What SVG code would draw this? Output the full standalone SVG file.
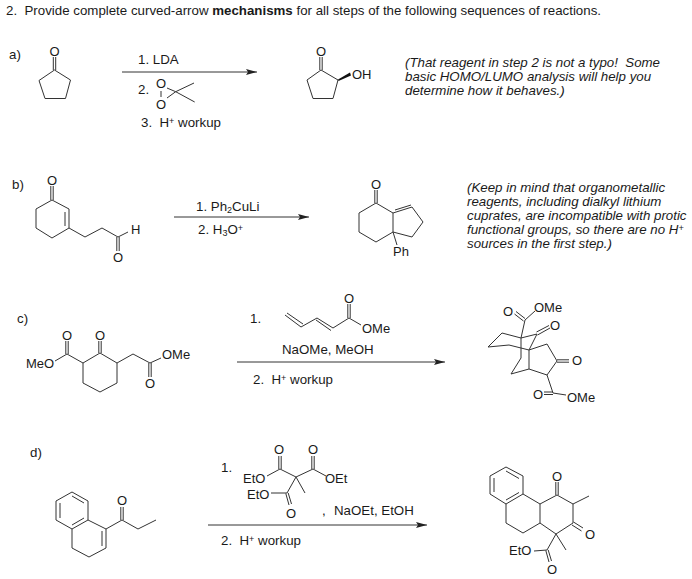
<svg xmlns="http://www.w3.org/2000/svg" width="692" height="579" viewBox="0 0 692 579">
<style>
text{font-family:"Liberation Sans",Arial,sans-serif;font-size:13.3px;fill:#1a1a1a}
.m{text-anchor:middle}
.a{font-size:13px}
.i{font-style:italic}
.s{font-size:9px}
.b{font-weight:bold}
.bond{fill:none;stroke:#333;stroke-width:1}
.arr{fill:none;stroke:#333;stroke-width:1}
</style>
<defs><marker id="ah" markerUnits="userSpaceOnUse" markerWidth="12" markerHeight="6" refX="11" refY="3" orient="auto"><path d="M0 0L11 3L0 6L2 3Z" fill="#222"/></marker></defs>
<rect width="692" height="579" fill="#fff"/>
<g id="title"><text x="6" y="15" xml:space="preserve">2.  Provide complete curved-arrow <tspan class="b">mechanisms</tspan> for all steps of the following sequences of reactions.</text></g>
<g id="connectors">
<path class="arr" marker-end="url(#ah)" d="M122 72H257"/>
<path class="arr" marker-end="url(#ah)" d="M174 217H309"/>
<path class="arr" marker-end="url(#ah)" d="M237 362H445"/>
<path class="arr" marker-end="url(#ah)" d="M208 525H427"/>
</g>
<g id="a-label"><text x="9" y="59">a)</text></g>
<g id="a-reactant">
<path class="bond" d="M54.500 70L70.500 80L65.500 98.500H45L39 80.500ZM53.300 70V57M55.700 70V57"/>
<text class="m a" x="54.500" y="56">O</text>
</g>
<g id="a-reagents">
<text x="138" y="64">1. LDA</text>
<text x="138" y="94">2.</text>
<path class="bond" d="M161 91V97M167 88L175.700 91.700L167 98M175.700 91.700L194 83M175.700 91.700L194.700 102"/>
<text class="m a" x="161" y="88">O</text>
<text class="m a" x="161" y="109">O</text>
<text x="141" y="127" xml:space="preserve">3.  H<tspan class="s" dy="-3">+</tspan><tspan dy="3"> workup</tspan></text>
</g>
<g id="a-product">
<path class="bond" d="M321 70L338 80L333 98.500H313L307 80ZM319.800 70V57M322.200 70V57"/>
<path d="M338 79.500L350 72.500L351 75.500L338.500 81Z" fill="#111"/>
<text class="m a" x="321" y="56">O</text>
<text class="a" x="352" y="79">OH</text>
</g>
<g id="a-note">
<text class="i" x="405" y="67" xml:space="preserve">(That reagent in step 2 is not a typo!  Some</text>
<text class="i" x="405" y="81">basic HOMO/LUMO analysis will help you</text>
<text class="i" x="405" y="95">determine how it behaves.)</text>
</g>
<g id="b-label"><text x="12" y="189">b)</text></g>
<g id="b-reactant">
<path class="bond" d="M52 200L69 209V228L52 238L36 228V209ZM50.800 200V186M53.200 200V186M65 212V226M69 228L85 237L102 228L118 237L128 232M116.800 237V251M119.200 237V251"/>
<text class="m a" x="52" y="185">O</text>
<text class="a" x="131" y="234">H</text>
<text class="m a" x="118" y="262">O</text>
</g>
<g id="b-reagents">
<text x="196" y="211">1. Ph<tspan class="s" dy="2">2</tspan><tspan dy="-2">CuLi</tspan></text>
<text x="198" y="234">2. H<tspan class="s" dy="2">3</tspan><tspan dy="-2">O</tspan><tspan class="s" dy="-3">+</tspan></text>
</g>
<g id="b-product">
<path class="bond" d="M376 203L393 213V232L376 242L359 232V213ZM374.800 203V190M377.200 203V190M393 213L412 207L423 222L412 237L393 232M395 210L411 205M393 232L397 245"/>
<text class="m a" x="376" y="189">O</text>
<text class="m a" x="401" y="256">Ph</text>
</g>
<g id="b-note">
<text class="i" x="467" y="192">(Keep in mind that organometallic</text>
<text class="i" x="467" y="206">reagents, including dialkyl lithium</text>
<text class="i" x="467" y="220">cuprates, are incompatible with protic</text>
<text class="i" x="467" y="234">functional groups, so there are no H<tspan class="s" dy="-3">+</tspan></text>
<text class="i" x="467" y="248">sources in the first step.)</text>
</g>
<g id="c-label"><text x="17" y="323">c)</text></g>
<g id="c-reactant">
<path class="bond" d="M100 353L117 363V383L100 392L83 383V363ZM98.800 353V341M101.200 353V341M83 363L67 354L55 361M65.800 354V341M68.200 354V341M117 363L133 354L150 363L161 358M148.800 363V377M151.200 363V377"/>
<text class="m a" x="67" y="340">O</text>
<text class="m a" x="100" y="340">O</text>
<text class="a" x="26" y="368">MeO</text>
<text class="a" x="162" y="359">OMe</text>
<text class="m a" x="150" y="388">O</text>
</g>
<g id="c-reagents">
<text x="250" y="323">1.</text>
<path class="bond" d="M285 315L301 327L317 318L333 328L349 318M287 313L303 324M316 320L331 330.500M347.800 318V304M350.200 318V304M349 318L361 325"/>
<text class="m a" x="349" y="303">O</text>
<text class="a" x="362" y="333">OMe</text>
<text x="282" y="354">NaOMe, MeOH</text>
<text x="253" y="384" xml:space="preserve">2.  H<tspan class="s" dy="-3">+</tspan><tspan dy="3"> workup</tspan></text>
</g>
<g id="c-product">
<path class="bond" d="M525 320L535 311M516 311.500L525 318.500M514.500 314L523.500 321M525 320L521 338L537 334L529 350M521 338L502 333L488 347L509 345L529 350L547 344L557 361L547 375L529 369V350M529 369L511 374L521 358V338M536.500 332L549 325.500M537.500 335L550 328M557 359.800H569M557 362.200H569M547 375L553 393L566 395M553 392L544 392M553 394.500L544 394.500"/>
<text class="a" x="534" y="312">OMe</text>
<text class="m a" x="508" y="316">O</text>
<text class="m a" x="555" y="330">O</text>
<text class="m a" x="577" y="365">O</text>
<text class="m a" x="538" y="399">O</text>
<text class="a" x="567" y="402">OMe</text>
</g>
<g id="d-label"><text x="30" y="457">d)</text></g>
<g id="d-reactant">
<path class="bond" d="M72 492L88 501V520L72 529L56 520V501ZM72 496L84 503M60 503V518M72 525L84 518M88 520L106 529V548L89 557L72 548V529M102 531V546M106 529L122 520L138 529L156 520M120.800 520V507M123.200 520V507"/>
<text class="m a" x="122" y="505">O</text>
</g>
<g id="d-reagents">
<text x="221" y="472">1.</text>
<path class="bond" d="M296 477L280 469L267 476M296 477L313 469L326 476M278.800 469V456M281.200 469V456M311.800 469V456M314.200 469V456M296 477L305 493M296 477L287 493L271 493M285.800 493.500L289 505M288.200 493L291.500 504"/>
<text class="m a" x="279" y="454">O</text>
<text class="m a" x="313" y="454">O</text>
<text class="a" x="243" y="483">EtO</text>
<text class="a" x="325" y="483">OEt</text>
<text class="a" x="247" y="499">EtO</text>
<text class="m a" x="291" y="518">O</text>
<text x="322" y="515">,</text>
<text x="334" y="515">NaOEt, EtOH</text>
<text x="221" y="545" xml:space="preserve">2.  H<tspan class="s" dy="-3">+</tspan><tspan dy="3"> workup</tspan></text>
</g>
<g id="d-product">
<path class="bond" d="M506 467L523 476V494L506 504L490 494V476ZM506 471L519 478.500M494 478V492M506 500L519 492.500M506 504V523L523 533L540 523V504L523 494M540 504L557 495L573 504L589 496M573 504V523L556 534L540 523M555.800 495V482M558.200 495V482M573.500 522L583 528M572 525L581.500 531M556 534L566 550M556 534L547 550L534 551M545.800 550.500L549 562M548.200 550L551.500 561"/>
<text class="m a" x="557" y="481">O</text>
<text class="m a" x="590" y="539">O</text>
<text class="a" x="509" y="555">EtO</text>
<text class="m a" x="552" y="574">O</text>
</g>
</svg>
